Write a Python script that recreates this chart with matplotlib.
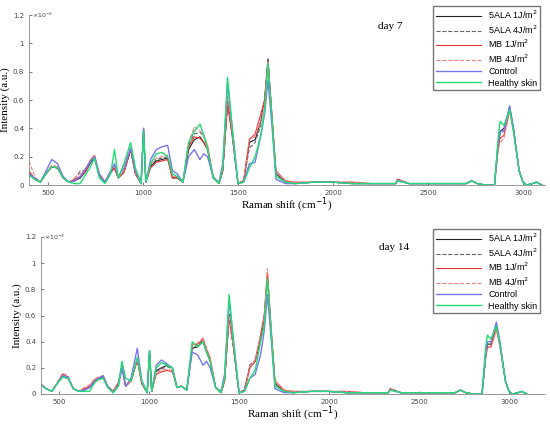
import matplotlib
matplotlib.use("Agg")
import matplotlib.pyplot as plt
from matplotlib.ticker import FuncFormatter

x = [400,430,460,490,520,550,580,610,640,670,700,720,745,770,800,830,850,870,900,935,960,990,1003,1015,
     1040,1070,1100,1130,1155,1180,1210,1240,1270,1300,1320,1340,1370,1400,1420,1445,1470,1500,1530,1560,
     1590,1620,1640,1658,1680,1700,1750,1800,1900,2000,2100,2200,2330,2340,2400,2500,2600,2700,2730,2760,
     2800,2850,2870,2880,2900,2930,2950,2980,3000,3020,3050,3070,3100]

# day 7 (x1e-3)
d7_black = [0.09,0.04,0.02,0.08,0.13,0.12,0.05,0.02,0.03,0.05,0.10,0.15,0.19,0.07,0.02,0.09,0.12,0.05,0.09,0.25,0.08,0.01,0.40,0.02,
            0.13,0.17,0.18,0.19,0.05,0.05,0.02,0.25,0.32,0.34,0.30,0.25,0.05,0.01,0.10,0.58,0.35,0.01,0.03,0.30,
            0.32,0.45,0.60,0.89,0.45,0.08,0.02,0.01,0.02,0.02,0.01,0.01,0.01,0.04,0.01,0.01,0.01,0.01,0.03,0.01,
            0.00,0.00,0.30,0.38,0.40,0.55,0.40,0.10,0.02,0.00,0.01,0.02,0.00]
d7_gdash = [0.08,0.04,0.02,0.08,0.13,0.12,0.05,0.02,0.04,0.10,0.10,0.16,0.20,0.07,0.02,0.10,0.14,0.05,0.10,0.25,0.08,0.01,0.39,0.02,
            0.14,0.18,0.19,0.20,0.05,0.06,0.02,0.28,0.36,0.37,0.35,0.27,0.06,0.01,0.10,0.60,0.35,0.01,0.03,0.26,
            0.30,0.42,0.58,0.87,0.45,0.08,0.02,0.01,0.02,0.02,0.01,0.01,0.01,0.04,0.01,0.01,0.01,0.01,0.03,0.01,
            0.00,0.00,0.28,0.36,0.38,0.54,0.40,0.10,0.02,0.00,0.01,0.02,0.00]
d7_red = [0.10,0.04,0.02,0.08,0.13,0.12,0.05,0.02,0.04,0.06,0.10,0.17,0.21,0.07,0.02,0.09,0.12,0.05,0.09,0.25,0.08,0.01,0.39,0.02,
          0.12,0.16,0.17,0.18,0.05,0.05,0.02,0.27,0.34,0.33,0.30,0.25,0.05,0.01,0.10,0.57,0.35,0.01,0.03,0.32,
          0.36,0.50,0.60,0.88,0.47,0.10,0.03,0.02,0.02,0.02,0.02,0.01,0.01,0.04,0.01,0.01,0.01,0.01,0.03,0.01,
          0.00,0.00,0.27,0.33,0.35,0.53,0.38,0.10,0.02,0.00,0.01,0.02,0.00]
d7_rdash = [0.17,0.06,0.02,0.09,0.14,0.13,0.05,0.02,0.05,0.08,0.12,0.17,0.21,0.08,0.02,0.10,0.14,0.05,0.10,0.27,0.08,0.01,0.38,0.02,
            0.15,0.19,0.20,0.21,0.06,0.06,0.02,0.30,0.41,0.38,0.36,0.28,0.06,0.01,0.11,0.63,0.36,0.01,0.03,0.33,
            0.34,0.45,0.58,0.87,0.47,0.10,0.03,0.02,0.02,0.02,0.02,0.01,0.01,0.04,0.01,0.01,0.01,0.01,0.03,0.01,
            0.00,0.00,0.25,0.30,0.33,0.52,0.38,0.10,0.02,0.00,0.01,0.02,0.00]
d7_blue = [0.08,0.05,0.02,0.10,0.18,0.15,0.06,0.02,0.03,0.06,0.12,0.16,0.20,0.08,0.02,0.10,0.15,0.06,0.12,0.26,0.10,0.01,0.40,0.02,
           0.18,0.25,0.27,0.28,0.10,0.08,0.02,0.20,0.25,0.18,0.22,0.20,0.05,0.02,0.15,0.72,0.40,0.01,0.02,0.15,
           0.16,0.35,0.50,0.74,0.40,0.04,0.01,0.01,0.02,0.02,0.01,0.01,0.01,0.03,0.01,0.01,0.01,0.01,0.03,0.01,
           0.00,0.00,0.30,0.38,0.38,0.56,0.40,0.10,0.02,0.00,0.01,0.02,0.00]
d7_green = [0.07,0.04,0.02,0.08,0.13,0.12,0.05,0.02,0.01,0.01,0.08,0.12,0.19,0.05,0.01,0.08,0.25,0.05,0.15,0.30,0.12,0.01,0.38,0.02,
            0.15,0.22,0.23,0.20,0.08,0.06,0.02,0.30,0.38,0.43,0.35,0.25,0.05,0.01,0.12,0.76,0.40,0.01,0.02,0.12,
            0.20,0.35,0.52,0.86,0.45,0.06,0.02,0.01,0.02,0.02,0.01,0.01,0.01,0.03,0.01,0.01,0.01,0.01,0.03,0.01,
            0.00,0.00,0.34,0.45,0.42,0.53,0.38,0.10,0.02,0.00,0.01,0.02,0.00]

# day 14 (x1e-3)
d14_black = [0.07,0.04,0.02,0.08,0.13,0.12,0.04,0.02,0.03,0.05,0.10,0.11,0.13,0.06,0.02,0.08,0.22,0.06,0.10,0.26,0.08,0.01,0.33,0.02,
             0.18,0.20,0.22,0.20,0.05,0.06,0.03,0.35,0.36,0.40,0.32,0.25,0.05,0.01,0.10,0.61,0.35,0.01,0.03,0.20,
             0.25,0.42,0.58,0.90,0.45,0.08,0.02,0.01,0.02,0.02,0.01,0.01,0.01,0.04,0.01,0.01,0.01,0.01,0.03,0.01,
             0.00,0.00,0.28,0.38,0.38,0.52,0.38,0.10,0.02,0.00,0.01,0.02,0.00]
d14_gdash = [0.07,0.04,0.02,0.08,0.14,0.12,0.04,0.02,0.03,0.05,0.10,0.12,0.13,0.06,0.02,0.09,0.22,0.06,0.10,0.27,0.08,0.01,0.32,0.02,
             0.17,0.19,0.21,0.19,0.05,0.06,0.03,0.36,0.37,0.41,0.33,0.26,0.05,0.01,0.10,0.60,0.35,0.01,0.03,0.22,
             0.26,0.43,0.58,0.92,0.45,0.08,0.02,0.01,0.02,0.02,0.01,0.01,0.01,0.04,0.01,0.01,0.01,0.01,0.03,0.01,
             0.00,0.00,0.28,0.38,0.38,0.53,0.38,0.10,0.02,0.00,0.01,0.02,0.00]
d14_red = [0.07,0.04,0.02,0.08,0.15,0.13,0.04,0.02,0.04,0.06,0.11,0.12,0.14,0.06,0.02,0.08,0.20,0.06,0.10,0.26,0.08,0.01,0.30,0.02,
           0.15,0.17,0.18,0.17,0.05,0.06,0.03,0.38,0.38,0.42,0.34,0.27,0.05,0.01,0.10,0.58,0.35,0.01,0.03,0.20,
           0.25,0.45,0.60,0.93,0.47,0.10,0.03,0.02,0.02,0.02,0.02,0.01,0.01,0.04,0.01,0.01,0.01,0.01,0.03,0.01,
           0.00,0.00,0.28,0.36,0.36,0.50,0.36,0.10,0.02,0.00,0.01,0.02,0.00]
d14_rdash = [0.08,0.04,0.02,0.09,0.16,0.14,0.04,0.02,0.05,0.07,0.12,0.13,0.14,0.06,0.02,0.09,0.21,0.06,0.10,0.27,0.08,0.01,0.30,0.02,
             0.16,0.18,0.19,0.18,0.05,0.06,0.03,0.38,0.39,0.43,0.35,0.28,0.05,0.01,0.10,0.60,0.35,0.01,0.03,0.20,
             0.26,0.46,0.60,0.96,0.48,0.10,0.03,0.02,0.02,0.02,0.02,0.01,0.01,0.04,0.01,0.01,0.01,0.01,0.03,0.01,
             0.00,0.00,0.27,0.35,0.36,0.49,0.36,0.10,0.02,0.00,0.01,0.02,0.00]
d14_blue = [0.07,0.04,0.02,0.08,0.14,0.13,0.04,0.02,0.03,0.05,0.10,0.12,0.14,0.06,0.01,0.06,0.20,0.06,0.12,0.35,0.10,0.01,0.33,0.02,
            0.22,0.26,0.23,0.20,0.05,0.06,0.03,0.32,0.30,0.22,0.25,0.20,0.05,0.02,0.15,0.72,0.40,0.01,0.02,0.12,
            0.15,0.30,0.48,0.76,0.40,0.04,0.01,0.01,0.02,0.02,0.01,0.01,0.01,0.03,0.01,0.01,0.01,0.01,0.03,0.01,
            0.00,0.00,0.30,0.40,0.40,0.55,0.40,0.10,0.02,0.00,0.01,0.02,0.00]
d14_green = [0.07,0.04,0.02,0.08,0.13,0.12,0.04,0.02,0.02,0.02,0.09,0.11,0.12,0.05,0.01,0.06,0.25,0.12,0.10,0.28,0.10,0.01,0.33,0.02,
             0.20,0.24,0.22,0.20,0.05,0.06,0.03,0.40,0.36,0.40,0.32,0.25,0.05,0.01,0.12,0.76,0.40,0.01,0.02,0.12,
             0.18,0.40,0.52,0.88,0.45,0.06,0.02,0.01,0.02,0.02,0.01,0.01,0.01,0.03,0.01,0.01,0.01,0.01,0.03,0.01,
             0.00,0.00,0.35,0.45,0.42,0.52,0.38,0.10,0.02,0.00,0.01,0.02,0.00]

labels = ["5ALA 1J/m$^2$", "5ALA 4J/m$^2$", "MB 1J/m$^2$", "MB 4J/m$^2$", "Control", "Healthy skin"]
styles = [("#222222", "-", 0.8), ("#666666", "--", 0.8), ("#ee3333", "-", 0.8),
          ("#f08080", "--", 0.8), ("#7777ee", "-", 1.0), ("#22dd77", "-", 1.0)]

fig = plt.figure(figsize=(5.5, 4.24), dpi=100)
ax1 = fig.add_axes([29/550, 1-185/424, 516/550, 170/424])
ax2 = fig.add_axes([41/550, 1-394/424, 504/550, 157/424])

panels = [(ax1, [d7_black, d7_gdash, d7_red, d7_rdash, d7_blue, d7_green], "day 7", 3116),
          (ax2, [d14_black, d14_gdash, d14_red, d14_rdash, d14_blue, d14_green], "day 14", 3200)]
serif = "Liberation Serif"
for ax, series, title, xmax in panels:
    for s, lab, (c, ls, lw) in zip(series, labels, styles):
        ax.plot(x, [v * 1e-3 for v in s], color=c, ls=ls, lw=lw, label=lab)
    ax.set_xlim(400, xmax)
    ax.set_ylim(0, 1.2e-3)
    ax.set_xticks([500, 1000, 1500, 2000, 2500, 3000])
    ax.set_yticks([0, 0.2e-3, 0.4e-3, 0.6e-3, 0.8e-3, 1.0e-3, 1.2e-3])
    ax.yaxis.set_major_formatter(FuncFormatter(lambda v, p: "0" if v == 0 else f"{v*1e3:g}"))
    ax.tick_params(labelsize=5, length=2, width=0.5, colors="#444444", direction="in")
    for sp in ["top", "right"]:
        ax.spines[sp].set_visible(False)
    for sp in ["left", "bottom"]:
        ax.spines[sp].set_color("#888888")
        ax.spines[sp].set_linewidth(0.6)
    ax.text(0.005, 1.0, r"$\times10^{-3}$", transform=ax.transAxes, fontsize=4.5, color="#444444", va="center")
    ax.text(0.70, 0.96, title, transform=ax.transAxes, fontsize=8, family=serif, ha="center", va="top")
    ax.set_xlabel("Raman shift (cm$^{-1}$)", fontsize=8, family=serif, labelpad=0)
    ax.set_ylabel("Intensity (a.u.)", fontsize=8, family=serif, labelpad=2)
    ax.legend(loc="upper right", bbox_to_anchor=(1.0, 1.08), frameon=True, fancybox=False,
              edgecolor="#555555", handlelength=5, borderpad=0.3, labelspacing=0.25,
              prop={"family": "Liberation Sans", "size": 6.5})

fig.savefig("out.png", dpi=100)
